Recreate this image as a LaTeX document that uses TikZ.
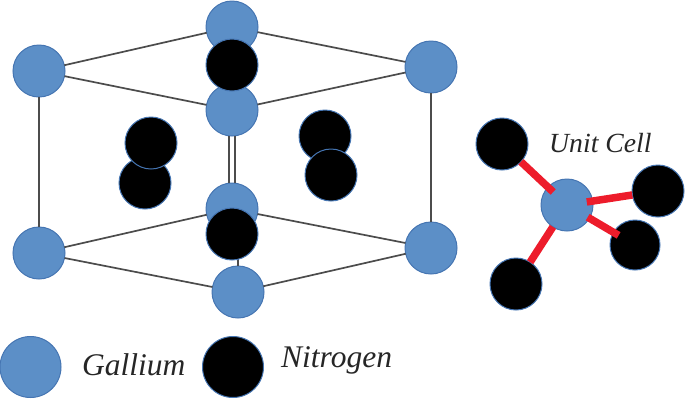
\documentclass[tikz,border=0pt]{standalone}
\usepackage{fontspec}
\setmainfont{Liberation Serif}
\usepackage{xcolor}
\definecolor{GaBlue}{rgb}{0.36, 0.56, 0.78}
\definecolor{GaEdge}{rgb}{0.27, 0.46, 0.70}
\definecolor{BondRed}{rgb}{0.93, 0.11, 0.17}
\begin{document}
\begin{tikzpicture}[x=1pt,y=1pt,yscale=-1,xscale=1,
	gallium/.style={circle,draw=GaEdge,fill=GaBlue,line width=1pt,minimum size=52pt,inner sep=0pt,outer sep=0pt},
	nitrogen/.style={circle,draw=GaEdge,fill=black,line width=1pt,minimum size=52pt,inner sep=0pt,outer sep=0pt},
	cellline/.style={draw=black!70,line width=1.7pt},
	bond/.style={draw=BondRed,line width=7.5pt},
	label/.style={inner sep=0pt,anchor=base west,text=black!85}]
	\useasboundingbox (0,0) rectangle (685,400);

	% Gallium atoms of the cell
	\node[gallium] (gaBack) at (232,27) {};
	\node[gallium] (gaLeftTop) at (39,71) {};
	\node[gallium] (gaRightTop) at (431,67) {};
	\node[gallium] (gaFront) at (232,110) {};
	\node[gallium] (gaLower) at (232,209) {};
	\node[gallium] (gaLeftBot) at (39,253) {};
	\node[gallium] (gaRightBot) at (431,248) {};
	\node[gallium] (gaBottom) at (238,292) {};

	% Cell edges
	\draw[cellline] (gaLeftTop) -- (gaBack);
	\draw[cellline] (gaBack) -- (gaRightTop);
	\draw[cellline] (gaLeftTop) -- (gaFront);
	\draw[cellline] (gaFront) -- (gaRightTop);
	\draw[cellline] (gaLeftBot) -- (gaLower);
	\draw[cellline] (gaLower) -- (gaRightBot);
	\draw[cellline] (gaLeftBot) -- (gaBottom);
	\draw[cellline] (gaBottom) -- (gaRightBot);
	\draw[cellline] (gaLeftTop) -- (gaLeftBot);
	\draw[cellline] (gaRightTop) -- (gaRightBot);
	\draw[cellline] ([xshift=-3pt]gaFront.south) -- ([xshift=-3pt]gaLower.north);
	\draw[cellline] ([xshift=3pt]gaFront.south) -- ([xshift=3pt]gaLower.north);
	\draw[cellline] (gaLower.south -| gaBottom.north) -- (gaBottom.north);

	% Nitrogen atoms of the cell
	\node[nitrogen] (nTop) at (232,65) {};
	\node[nitrogen] (nLeftLow) at (145,183) {};
	\node[nitrogen] (nLeftHigh) at (151,143) {};
	\node[nitrogen] (nRightHigh) at (325,136) {};
	\node[nitrogen] (nRightLow) at (331,175) {};
	\node[nitrogen] (nLower) at (232,234) {};

	% The unit cell
	\node[gallium] (gaUnit) at (567,205) {};
	\node[nitrogen] (nUnitA) at (502,144) {};
	\node[nitrogen] (nUnitB) at (658,191) {};
	\node[nitrogen,minimum size=50pt] (nUnitC) at (635,245) {};
	\node[nitrogen] (nUnitD) at (516,284) {};
	\draw[bond,shorten >=-7pt] (nUnitA) -- (gaUnit);
	\draw[bond,shorten >=-6pt] (nUnitB) -- (gaUnit);
	\draw[bond,shorten <=-6pt,shorten >=-2pt] (nUnitC) -- (gaUnit);
	\draw[bond] (nUnitD) -- (gaUnit);
	\node[label,font=\itshape\fontsize{27.7}{28}\selectfont] (unitLabel) at (549,152) {Unit Cell};

	% Legend
	\node[gallium,minimum size=61pt] (gaKey) at (30.5,367) {};
	\node[nitrogen,minimum size=61pt] (nKey) at (233,367) {};
	\node[label,font=\itshape\fontsize{31.5}{32}\selectfont] (gaText) at (82,375) {Gallium};
	\node[label,font=\itshape\fontsize{31.5}{32}\selectfont] (nText) at (281,367) {Nitrogen};
\end{tikzpicture}
\end{document}
